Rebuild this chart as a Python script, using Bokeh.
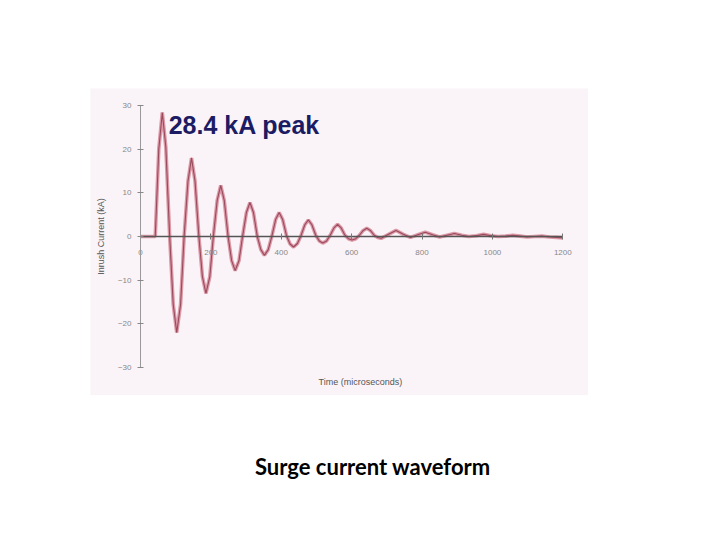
from bokeh.plotting import figure
from bokeh.models import Label, Div, FixedTicker, Range1d
from bokeh.layouts import column
from bokeh.embed import file_html
from bokeh.resources import INLINE

# Values (time in microseconds, current in kA)
time_us = [0, 42, 52, 62, 72, 83, 93, 103, 114, 124,
           135, 145, 155, 166, 176, 186, 197, 207,
           218, 228, 238, 249, 259, 269, 280, 290,
           301, 311, 321, 332, 342, 352, 363, 373,
           384, 394, 404, 415, 425, 435, 446, 456,
           467, 477, 487, 498, 508, 518, 529, 539,
           550, 560, 570, 581, 591, 601, 612, 622,
           633, 643, 653, 664, 674, 684,
           705, 726, 747, 767, 788, 809, 830, 850, 871, 892, 913, 933,
           954, 975, 996, 1016, 1037, 1058, 1079, 1099, 1120, 1141, 1162, 1182, 1200]
current_ka = [0, 0, 20.0, 28.4, 20.5, 0, -15.5, -22.0, -15.5, 0,
              12.7, 18.0, 12.7, 0, -9.2, -13.0, -9.2, 0,
              8.3, 11.7, 8.3, 0, -5.5, -7.8, -5.5, 0,
              5.5, 7.8, 5.5, 0, -3.0, -4.3, -3.0, 0,
              3.9, 5.5, 3.9, 0.2, -1.7, -2.4, -1.6, 0.2,
              2.7, 3.8, 2.7, 0.3, -1.0, -1.5, -1.0, 0.3,
              2.0, 2.8, 2.0, 0.3, -0.5, -0.8, -0.5, 0.3,
              1.4, 1.9, 1.4, 0.3, -0.2, -0.4,
              0.5, 1.4, 0.5, -0.2, 0.4, 1.0, 0.4, -0.1, 0.3, 0.7, 0.3, 0.0,
              0.2, 0.5, 0.2, 0.0, 0.1, 0.3, 0.1, -0.1, 0.0, 0.1, -0.1, -0.2, -0.3]

x_ticks = [0, 200, 400, 600, 800, 1000, 1200]
y_ticks = [-30, -20, -10, 0, 10, 20, 30]
peak_text = "28.4 kA peak"
peak_label_pos = (80, 28.8)
x_title = "Time (microseconds)"
x_title_pos = (625, -33.2)
y_title = "Inrush Current (kA)"

panel_bg = "#faf4f8"

# The whole pale panel is the plot frame; the axes sit at x=0 and y=0 inside it.
p = figure(width=498, height=307, x_range=Range1d(-142, 1273), y_range=Range1d(-36.4, 33.9),
           output_backend="svg", toolbar_location=None,
           min_border_left=0, min_border_right=0, min_border_top=0, min_border_bottom=0,
           background_fill_color=panel_bg, border_fill_color=panel_bg,
           outline_line_color=None, margin=(88, 0, 0, 90))
p.grid.visible = False

p.line(time_us, current_ka, line_color="#dc9aa8", line_width=3.6)
p.line(time_us, current_ka, line_color="#9a4a5c", line_width=1.1)

xa = p.xaxis[0]
xa.fixed_location = 0
xa.bounds = (0, 1200)
xa.ticker = FixedTicker(ticks=x_ticks)
xa.minor_tick_line_color = None
xa.major_tick_in = 3
xa.major_tick_out = 3
xa.axis_line_color = "#555555"
xa.axis_line_width = 1.5
xa.major_tick_line_color = "#777777"
xa.major_label_text_font = "Liberation Sans"
xa.major_label_text_font_size = "8px"
xa.major_label_text_color = "#888888"
xa.major_label_standoff = 10

ya = p.yaxis[0]
ya.fixed_location = 0
ya.bounds = (-30, 30)
ya.ticker = FixedTicker(ticks=y_ticks)
ya.minor_tick_line_color = None
ya.major_tick_in = 3
ya.major_tick_out = 3
ya.axis_line_color = "#999999"
ya.major_tick_line_color = "#888888"
ya.major_label_text_font = "Liberation Sans"
ya.major_label_text_font_size = "8px"
ya.major_label_text_color = "#888888"
ya.major_label_standoff = 6
ya.axis_label = y_title
ya.axis_label_text_font = "Liberation Sans"
ya.axis_label_text_font_size = "9px"
ya.axis_label_text_font_style = "normal"
ya.axis_label_text_color = "#555555"
ya.axis_label_standoff = 9

p.add_layout(Label(x=x_title_pos[0], y=x_title_pos[1], text=x_title,
                   text_font="Liberation Sans", text_font_size="9px", text_color="#555555",
                   text_align="center", text_baseline="middle"))

p.add_layout(Label(x=peak_label_pos[0], y=peak_label_pos[1], text=peak_text,
                   text_font="Liberation Sans", text_font_style="bold", text_font_size="25px",
                   text_color="#1c1c64", text_baseline="top"))

caption = Div(text="Surge current waveform", width=320,
              styles={"font-family": "Lato", "font-weight": "bold", "font-size": "22px",
                      "color": "#000000", "white-space": "nowrap"},
              margin=(56, 0, 0, 255))

layout = column(p, caption)
open("out.html", "w").write(file_html(layout, INLINE))
